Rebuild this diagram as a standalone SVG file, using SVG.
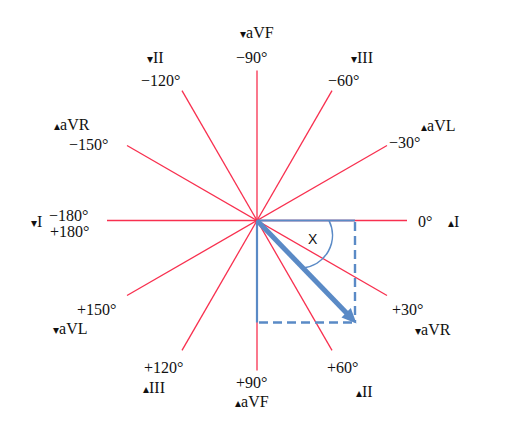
<svg xmlns="http://www.w3.org/2000/svg" width="512" height="434" viewBox="0 0 512 434">
<style>
.ax{stroke:#F8304F;stroke-width:1.3;fill:none}
.bl{stroke:#5A8AC6;fill:none}
.t{font-family:"Liberation Serif","Times New Roman",serif;font-size:16px;fill:#111}
.tri{font-family:"DejaVu Sans",sans-serif;font-size:12px}
.x{font-family:"Liberation Sans",Arial,sans-serif;font-size:14px;fill:#111}
</style>
<rect width="512" height="434" fill="#fff"/>
<g id="connectors">
<g id="axes">
<line class="ax" x1="107" y1="220.5" x2="407" y2="220.5"/>
<line class="ax" x1="257" y1="70.5" x2="257" y2="370.5"/>
<line class="ax" x1="127" y1="145.5" x2="387" y2="295.5"/>
<line class="ax" x1="127" y1="295.5" x2="387" y2="145.5"/>
<line class="ax" x1="182" y1="90.6" x2="332" y2="350.4"/>
<line class="ax" x1="182" y1="350.4" x2="332" y2="90.6"/>
</g>
<g id="vector">
<path class="bl" stroke-width="2.2" d="M257 220.5 H355 M257 220.5 V322.5"/>
<path class="bl" stroke-width="2.4" stroke-dasharray="9 5" d="M355 222 V322.5 M259 322.5 H355"/>
<path class="bl" stroke-width="1.6" d="M329 220.5 A33 33 0 0 1 303 268"/>
<line class="bl" stroke-width="5" x1="258" y1="221.5" x2="347" y2="313.5"/>
<polygon fill="#5A8AC6" points="356.5,323.5 341.5,317.5 350.8,308"/>
</g>
</g>
<g id="label-x"><text class="x" x="308" y="244">X</text></g>
<g id="labels">
<g id="n-90"><text class="t" x="240" y="38"><tspan class="tri">▾</tspan>aVF</text><text class="t" x="236" y="63">−90°</text></g>
<g id="n-120"><text class="t" x="147" y="63"><tspan class="tri">▾</tspan>II</text><text class="t" x="141" y="86">−120°</text></g>
<g id="n-60"><text class="t" x="351" y="63"><tspan class="tri">▾</tspan>III</text><text class="t" x="328" y="86">−60°</text></g>
<g id="n-150"><text class="t" x="54" y="130"><tspan class="tri">▴</tspan>aVR</text><text class="t" x="69" y="150">−150°</text></g>
<g id="n-30"><text class="t" x="421" y="131"><tspan class="tri">▴</tspan>aVL</text><text class="t" x="389" y="148">−30°</text></g>
<g id="n-180"><text class="t" x="31" y="227"><tspan class="tri">▾</tspan>I</text><text class="t" x="49" y="221">−180°</text><text class="t" x="50" y="237">+180°</text></g>
<g id="n0"><text class="t" x="418" y="227">0°</text><text class="t" x="448" y="227"><tspan class="tri">▴</tspan>I</text></g>
<g id="n150"><text class="t" x="77" y="315">+150°</text><text class="t" x="53" y="334"><tspan class="tri">▾</tspan>aVL</text></g>
<g id="n30"><text class="t" x="392" y="315">+30°</text><text class="t" x="415" y="335"><tspan class="tri">▾</tspan>aVR</text></g>
<g id="n120"><text class="t" x="144" y="373">+120°</text><text class="t" x="143" y="393"><tspan class="tri">▴</tspan>III</text></g>
<g id="n90"><text class="t" x="236" y="388">+90°</text><text class="t" x="235" y="407"><tspan class="tri">▴</tspan>aVF</text></g>
<g id="n60"><text class="t" x="327" y="373">+60°</text><text class="t" x="356" y="397"><tspan class="tri">▴</tspan>II</text></g>
</g>
</svg>
